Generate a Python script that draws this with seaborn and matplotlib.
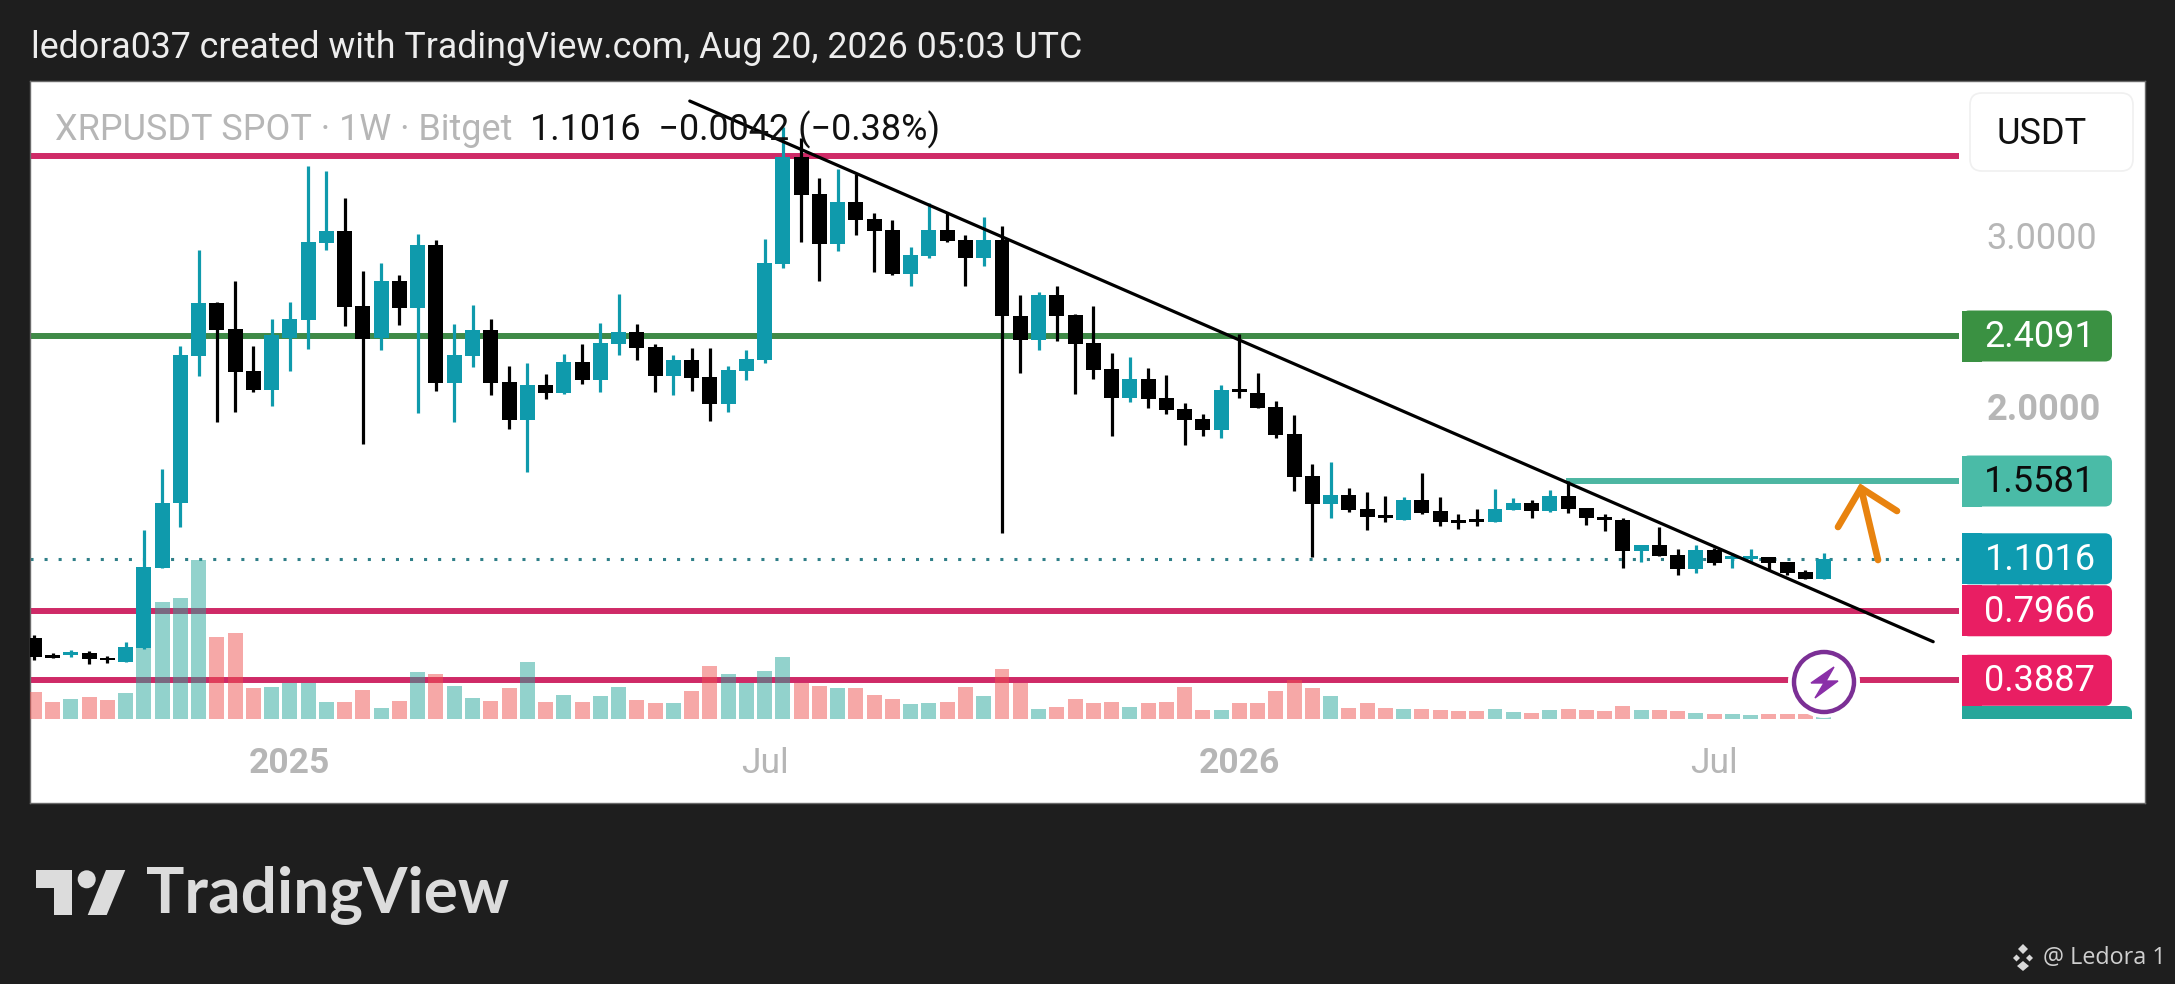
import matplotlib
matplotlib.use("Agg")
import matplotlib.pyplot as plt
from matplotlib.patches import Circle, FancyBboxPatch, Polygon, Rectangle
import numpy as np
import pandas as pd
import seaborn as sns

# ---------- data ----------
opens = [0.638,0.535,0.536,0.546,0.521,0.495,0.581,1.047,1.428,2.294,
         2.603,2.450,2.204,2.094,2.395,2.505,2.955,3.025,2.585,2.395,
         2.732,2.573,2.943,2.133,2.294,2.444,2.139,1.918,2.122,2.073,
         2.255,2.151,2.362,2.431,2.345,2.174,2.268,2.169,2.010,2.204,
         2.268,2.832,3.462,3.242,2.949,3.196,3.096,3.031,2.773,2.879,
         3.031,2.973,2.867,2.971,2.528,2.384,2.648,2.530,2.366,2.214,
         2.043,2.155,2.043,1.979,1.920,1.856,2.096,2.073,1.991,1.832,
         1.586,1.421,1.474,1.392,1.357,1.327,1.445,1.380,1.327,1.333,
         1.318,1.388,1.429,1.382,1.470,1.398,1.347,1.329,1.147,1.183,
         1.124,1.042,1.153,1.100,1.098,1.112,1.083,1.022,0.985]
closes = [0.525,0.519,0.552,0.511,0.507,0.585,1.051,1.432,2.298,2.603,
          2.446,2.200,2.094,2.415,2.509,2.959,3.025,2.579,2.393,2.732,
          2.573,2.943,2.133,2.298,2.444,2.133,1.918,2.122,2.077,2.255,
          2.151,2.368,2.431,2.339,2.174,2.268,2.163,2.010,2.210,2.274,
          2.838,3.462,3.237,2.949,3.196,3.090,3.025,2.773,2.885,3.031,
          2.965,2.867,2.973,2.525,2.384,2.648,2.525,2.360,2.208,2.043,
          2.155,2.037,1.973,1.914,1.856,2.090,2.080,1.985,1.826,1.580,
          1.421,1.474,1.386,1.345,1.341,1.445,1.372,1.316,1.312,1.318,
          1.392,1.429,1.382,1.470,1.394,1.341,1.327,1.147,1.183,1.118,
          1.042,1.153,1.079,1.120,1.118,1.079,1.018,0.985,1.1016]
highs = [0.652,0.546,0.566,0.558,0.530,0.613,1.270,1.629,2.350,2.914,
         2.609,2.732,2.350,2.509,2.609,3.407,3.377,3.219,2.791,2.838,
         2.767,3.008,2.973,2.480,2.591,2.509,2.233,2.251,2.186,2.304,
         2.362,2.485,2.656,2.480,2.362,2.298,2.339,2.339,2.233,2.327,
         2.978,3.638,3.569,3.336,3.389,3.360,3.131,3.090,2.931,3.188,
         3.137,3.002,3.109,3.053,2.648,2.665,2.701,2.536,2.583,2.307,
         2.284,2.219,2.178,2.014,1.949,2.120,2.419,2.190,2.026,1.944,
         1.656,1.668,1.515,1.492,1.468,1.462,1.603,1.462,1.363,1.394,
         1.511,1.458,1.447,1.505,1.558,1.398,1.364,1.341,1.183,1.288,
         1.159,1.183,1.165,1.136,1.159,1.112,1.083,1.036,1.134]
lows = [0.507,0.519,0.525,0.484,0.491,0.495,0.573,1.047,1.287,2.176,
        1.902,1.965,2.079,2.000,2.206,2.335,2.916,2.468,1.777,2.329,
        2.474,1.955,2.086,1.902,2.229,2.063,1.865,1.613,2.041,2.067,
        2.129,2.081,2.298,2.268,2.081,2.063,2.086,1.912,1.963,2.151,
        2.253,2.810,2.961,2.732,2.908,3.002,2.785,2.767,2.703,2.869,
        2.961,2.703,2.820,1.253,2.190,2.327,2.378,2.067,2.155,1.820,
        2.020,1.985,1.949,1.768,1.820,1.809,2.043,1.985,1.809,1.498,
        1.112,1.339,1.374,1.269,1.316,1.327,1.366,1.292,1.275,1.294,
        1.318,1.388,1.341,1.376,1.370,1.300,1.265,1.048,1.083,1.118,
        1.007,1.018,1.065,1.048,1.083,1.036,1.007,0.985,0.985]
volumes = [27,17,20,22,19,26,112,117,121,159,
           82,86,31,32,36,36,17,17,29,11,
           18,47,45,33,21,18,31,57,17,24,
           17,23,32,19,16,16,28,53,45,36,
           48,62,36,33,31,31,24,20,15,16,
           17,32,23,50,36,10,12,20,16,17,
           12,16,17,32,9,9,16,16,28,39,
           31,23,11,16,11,10,10,9,8,8,
           10,7,6,9,10,9,8,13,9,9,
           8,6,5,5,4,5,5,5,2.5]

red_levels = [3.466, 0.7966, 0.3887]
green_level = 2.4091
teal_level = 1.5581
last_price = 1.1016
trend_x = [35.9, 104.0]
trend_y = [3.788, 0.615]
price_ticks = [3.0, 2.0, 1.0]
price_tick_labels = ["3.0000", "2.0000", "1.0000"]
date_ticks = [14, 40, 66, 92]
date_tick_labels = ["2025", "Jul", "2026", "Jul"]
badges = [("2.4091", 2.4091, "#3a9142", "white"),
          ("1.5581", 1.5581, "#4abba7", "#0c0c0c"),
          ("1.1016", 1.1016, "#0e9bb0", "white"),
          ("0.7966", 0.7966, "#e91e63", "white"),
          ("0.3887", 0.3887, "#e91e63", "white")]

# ---------- colours ----------
BG = "#1e1e1e"
UP = "#0f9aac"
DOWN = "#000000"
RED = "#cf2a67"
GREEN = "#3f8a47"
TEAL_LINE = "#4db6a2"
GREY = "#b6b6b6"

sns.set_theme(style="white")
plt.rcParams["font.family"] = ["Roboto", "DejaVu Sans"]

W, H = 2175, 984
fig = plt.figure(figsize=(W / 100, H / 100), dpi=100, facecolor=BG)
L, R, T, B = 30, 2145, 81, 803
rect = [L / W, 1 - B / H, (R - L) / W, (B - T) / H]

XLIM = (-0.235, 115.6)
YLIM = (-0.3315, 3.9056)
VLIM = (-84, 638)
LEVEL_END = 105.4


def py(price):
    return 336 + (2.4091 - price) * 170.4


df = pd.DataFrame({"i": np.arange(len(opens)), "open": opens, "close": closes,
                   "high": highs, "low": lows, "volume": volumes})
df["dir"] = np.where(df["close"] >= df["open"], "up", "down")

# back layer: card, price/date labels, level lines
ax = fig.add_axes(rect, facecolor="white", zorder=1)
ax.set_xlim(*XLIM)
ax.set_ylim(*YLIM)
ax.hlines(red_levels, XLIM[0], LEVEL_END, color=RED, lw=4.3, zorder=2)
ax.hlines(green_level, XLIM[0], LEVEL_END, color=GREEN, lw=4.3, zorder=2)
ax.hlines(teal_level, 83.9, LEVEL_END, color=TEAL_LINE, lw=4.3, zorder=2)
ax.hlines(last_price, XLIM[0], LEVEL_END, color="#2f7f88", lw=2.2,
          linestyles=(0, (1, 3.6)), zorder=2)
ax.yaxis.tick_right()
ax.set_yticks(price_ticks)
ax.set_yticklabels(price_tick_labels, fontsize=26, color=GREY)
ax.tick_params(axis="y", length=0, pad=-114)
ax.set_xticks(date_ticks)
ax.set_xticklabels(date_tick_labels, fontsize=25.5, color=GREY)
ax.tick_params(axis="x", length=0, pad=-40)
for lab in (ax.get_xticklabels()[0], ax.get_xticklabels()[2], ax.get_yticklabels()[1]):
    lab.set_fontweight("bold")
for s in ax.spines.values():
    s.set_color("#6a6a6a")
    s.set_linewidth(1)
ax.set_xlabel("")
ax.set_ylabel("")

# middle layer: translucent volume bars
ax_vol = fig.add_axes(rect, facecolor="none", zorder=2)
sns.barplot(data=df, x="i", y="volume", hue="dir", native_scale=True, dodge=False,
            hue_order=["up", "down"], palette={"up": "#26a69a", "down": "#ef5350"},
            width=0.82, alpha=0.5, saturation=1, linewidth=0, legend=False, ax=ax_vol)
ax_vol.set_xlim(*XLIM)
ax_vol.set_ylim(*VLIM)
ax_vol.axis("off")

# front layer: candles and trend line
axf = fig.add_axes(rect, facecolor="none", zorder=3)
colors = [UP if d == "up" else DOWN for d in df["dir"]]
axf.vlines(df["i"], df["low"], df["high"], colors=colors, lw=2.3, zorder=3)
axf.bar(df["i"], (df["close"] - df["open"]).abs(), bottom=df[["open", "close"]].min(axis=1),
        width=0.82, color=colors, linewidth=0, zorder=4)
sns.lineplot(x=trend_x, y=trend_y, color="black", lw=2.3, ax=axf, zorder=5,
             errorbar=None, estimator=None)
axf.set_xlim(*XLIM)
axf.set_ylim(*YLIM)
axf.axis("off")

# overlay in pixels for the chrome around the chart
ov = fig.add_axes([0, 0, 1, 1], facecolor="none", zorder=4)
ov.set_xlim(0, W)
ov.set_ylim(H, 0)
ov.axis("off")
ov.text(31, 48, "ledora037 created with TradingView.com, Aug 20, 2026 05:03 UTC",
        color="#ededed", fontsize=25.75, va="center", ha="left")
ov.text(55, 130, "XRPUSDT SPOT · 1W · Bitget", color=GREY, fontsize=25.9, va="center")
ov.text(530, 130, "1.1016  −0.0042 (−0.38%)", color="#111111", fontsize=25.9, va="center")

# USDT box
ov.add_patch(FancyBboxPatch((1978, 101), 147, 62, boxstyle="round,pad=8,rounding_size=12",
                            fc="white", ec="#f0f0f0", lw=1.2))
ov.text(2042, 134, "USDT", color="#111111", fontsize=26, ha="center", va="center")

# price badges
for text, price, color, tcolor in badges:
    cy = py(price)
    ov.add_patch(FancyBboxPatch((1962, cy - 25.5), 150, 51, boxstyle="round,pad=0,rounding_size=7",
                                fc=color, ec="none"))
    ov.add_patch(Rectangle((1962, cy - 25.5), 20, 51, fc=color, ec="none"))
    ov.text(2040, cy + 1, text, color=tcolor, fontsize=26, ha="center", va="center")
ov.add_patch(FancyBboxPatch((1962, 706), 170, 20, boxstyle="round,pad=0,rounding_size=7",
                            fc="#26a69a", ec="none"))
ov.add_patch(Rectangle((1962, 719), 180, 12, fc="white", ec="none"))
ov.add_patch(Rectangle((1962, 706), 20, 13, fc="#26a69a", ec="none"))

# orange arrow
ov.plot([1878, 1861], [560, 488], color="#e8830f", lw=4.8, solid_capstyle="round")
ov.plot([1838, 1861, 1897], [527, 488, 511], color="#e8830f", lw=4.8,
        solid_capstyle="round", solid_joinstyle="miter")

# lightning badge
ov.add_patch(Circle((1824, 682), 36, fc="white", ec="none"))
ov.add_patch(Circle((1824, 682), 30, fc="white", ec="#7b2f95", lw=3.2))
ov.add_patch(Polygon([(1834, 667), (1811, 683), (1824, 683), (1815, 698), (1838, 681), (1826, 681)],
                     closed=True, fc="#8a2fa8", ec="#8a2fa8", lw=1))

# TradingView logo
LOGO = "#dcdcdc"
ov.add_patch(Polygon([(36, 870), (72.3, 870), (72.3, 915), (54.3, 915), (54.3, 887.7), (36, 887.7)],
                     closed=True, fc=LOGO, ec="none"))
ov.add_patch(Circle((86.7, 879.3), 9, fc=LOGO, ec="none"))
ov.add_patch(Polygon([(106, 870), (125.3, 870), (106.7, 915), (87.7, 915)], closed=True, fc=LOGO, ec="none"))
ov.text(146, 895, "TradingView", color=LOGO, fontsize=46, fontweight="bold",
        family=["Lato", "DejaVu Sans"], va="center", ha="left")

# watermark: Binance-style diamond icon
WM = "#d8d8d8"
ov.add_patch(Polygon([(2023, 944), (2028, 949), (2023, 954), (2018, 949)], closed=True, fc=WM, ec="none"))
ov.add_patch(Polygon([(2023, 961), (2029, 966), (2023, 971), (2017, 966)], closed=True, fc=WM, ec="none"))
ov.add_patch(Polygon([(2013, 958), (2016.5, 954.5), (2020, 958), (2016.5, 961.5)], closed=True, fc=WM, ec="none"))
ov.add_patch(Polygon([(2026, 958), (2029.5, 954.5), (2033, 958), (2029.5, 961.5)], closed=True, fc=WM, ec="none"))
ov.text(2043, 958, "@ Ledora 1", color="#cfcfcf", fontsize=16.8, va="center", ha="left",
        family=["Open Sans", "DejaVu Sans"])

fig.savefig("out.png", dpi=100, facecolor=BG)
